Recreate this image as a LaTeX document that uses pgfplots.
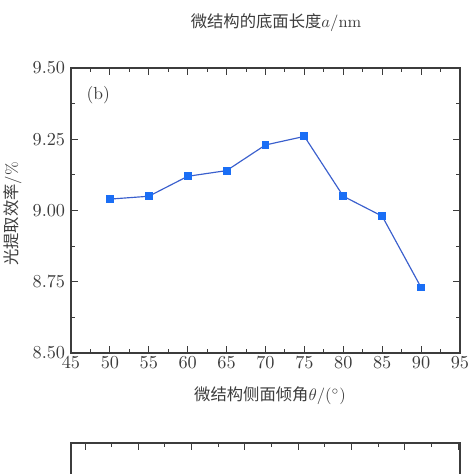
\documentclass[border=0pt]{standalone}
\usepackage{fontspec}
\usepackage{pgfplots}
\pgfplotsset{compat=1.18}
\newfontfamily\cjk{Noto Sans CJK SC}
\definecolor{axcol}{RGB}{60,60,60}
\definecolor{linecol}{RGB}{58,95,205}
\definecolor{markcol}{RGB}{26,110,245}

\begin{document}
\begin{tikzpicture}
  % frame of the 474 x 474 reference (1 px = 0.6pt), y measured from the bottom
  \clip (0pt,0pt) rectangle (284.4pt,284.4pt);
  \path[use as bounding box] (0pt,0pt) rectangle (284.4pt,284.4pt);

  \begin{axis}[
      at={(42.6pt,72.6pt)}, anchor=south west,
      scale only axis, width=233.4pt, height=171pt,
      xmin=45, xmax=95, ymin=8.5, ymax=9.5,
      xtick={45,50,...,95},
      ytick={8.5,8.75,9,9.25,9.5},
      minor x tick num=1, minor y tick num=1,
      yticklabel style={/pgf/number format/.cd,fixed,fixed zerofill,precision=2},
      tick align=inside, major tick length=4pt, minor tick length=2.4pt,
      axis line style={axcol,line width=0.9pt},
      every tick/.style={axcol,line width=0.6pt},
      ticklabel style={font=\fontsize{10.5}{12}\selectfont,text=axcol},
      xticklabel style={yshift=1pt},
      clip=false,
    ]
    \addplot[linecol, line width=0.7pt, mark=square*,
      mark options={markcol, draw=markcol, mark size=2pt}]
      coordinates {(50,9.04) (55,9.05) (60,9.12) (65,9.14) (70,9.23)
                   (75,9.26) (80,9.05) (85,8.98) (90,8.73)};
    \node[anchor=center, text=axcol, font=\fontsize{10.5}{12}\selectfont]
      at (rel axis cs:0.07,0.905) {(b)};
  \end{axis}

  % cut-off panel (c) below
  \begin{axis}[
      at={(42.6pt,18.6pt)}, anchor=north west,
      scale only axis, width=233.4pt, height=171pt,
      xmin=-0.263, xmax=7.035, ymin=0, ymax=1,
      xtick={0,...,7}, ytick={0,0.25,0.5,0.75},
      minor x tick num=1,
      xticklabels={}, yticklabels={},
      tick align=inside, major tick length=4pt, minor tick length=2.4pt,
      axis line style={axcol,line width=0.9pt},
      every tick/.style={axcol,line width=0.6pt},
      clip=false,
    ]
    \node[anchor=center, text=axcol, font=\fontsize{10.5}{12}\selectfont]
      at (rel axis cs:0.055,-0.16) {(c)};
  \end{axis}

  % titles and labels
  \node[text=axcol, font=\fontsize{9.8}{12}\selectfont] at (165.6pt,270.6pt)
    {\cjk 微结构的底面长度\normalfont$a/\mathrm{nm}$};
  \node[text=axcol, font=\fontsize{9.8}{12}\selectfont] at (162pt,46.8pt)
    {\cjk 微结构侧面倾角\normalfont$\theta/(^\circ)$};
  \node[text=axcol, font=\fontsize{9.8}{12}\selectfont, rotate=90] at (7.5pt,156pt)
    {\cjk 光提取效率\normalfont$/\%$};
\end{tikzpicture}
\end{document}
